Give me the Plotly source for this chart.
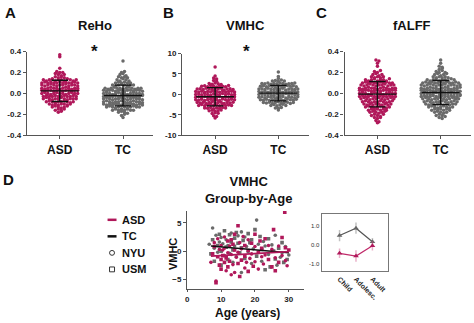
import numpy as np
import plotly.graph_objects as go

W, H = 474, 323
def fx(px): return px / W
def fy(py): return 1 - py / H

PINK = '#B0185A'
GREY = '#6A6A6A'
FONT = 'Arial, Liberation Sans, sans-serif'

GROUPS = ["ASD", "TC"]

REHO_ASD = [
 0.37, 0.35,
 0.24,
 0.21, 0.20, 0.20,
 0.19, 0.18, 0.17, 0.18,
 0.16, 0.15, 0.16, 0.15,
 0.13, 0.12, 0.13, 0.14, 0.12, 0.13, 0.13, 0.12, 0.14, 0.13, 0.12, 0.13,
 0.10, 0.11, 0.10, 0.11, 0.10, 0.10, 0.11, 0.10, 0.11, 0.10, 0.10, 0.11, 0.10,
 0.08, 0.07, 0.08, 0.09, 0.08, 0.07, 0.08, 0.08, 0.09, 0.07, 0.08, 0.08, 0.07,
 0.05, 0.04, 0.05, 0.06, 0.05, 0.05, 0.04, 0.05, 0.06, 0.05, 0.04, 0.05, 0.05,
 0.03, 0.02, 0.03, 0.03, 0.02, 0.03, 0.03, 0.02, 0.03, 0.03, 0.02, 0.03, 0.03,
 0.00, 0.01, 0.00, -0.01, 0.00, 0.01, 0.00, 0.00, -0.01, 0.00, 0.01, 0.00, 0.00,
 -0.03, -0.02, -0.03, -0.03, -0.02, -0.03, -0.03, -0.02, -0.03, -0.03, -0.02, -0.03,
 -0.05, -0.04, -0.05, -0.06, -0.05, -0.05, -0.04, -0.05, -0.06, -0.05, -0.05, -0.05,
 -0.08, -0.07, -0.08, -0.09, -0.08, -0.08, -0.07, -0.08, -0.09, -0.08,
 -0.10, -0.11, -0.10, -0.11, -0.10, -0.10, -0.11, -0.10,
 -0.13, -0.12, -0.13, -0.14, -0.13, -0.12,
 -0.16, -0.15, -0.16, -0.15,
 -0.18, -0.17,
]
REHO_TC = [
 0.31,
 0.20, 0.21,
 0.18, 0.19, 0.17,
 0.16, 0.15, 0.16, 0.15,
 0.13, 0.12, 0.14, 0.13, 0.12,
 0.10, 0.11, 0.10, 0.11, 0.10, 0.10,
 0.08, 0.07, 0.08, 0.09, 0.08, 0.07, 0.08, 0.08,
 0.05, 0.04, 0.05, 0.06, 0.05, 0.05, 0.04, 0.05, 0.06, 0.05, 0.04, 0.05, 0.05,
 0.03, 0.02, 0.03, 0.03, 0.02, 0.03, 0.03, 0.02, 0.03, 0.03, 0.02, 0.03, 0.03, 0.02,
 0.00, 0.01, 0.00, -0.01, 0.00, 0.01, 0.00, 0.00, -0.01, 0.00, 0.01, 0.00, 0.00, -0.01,
 -0.03, -0.02, -0.03, -0.03, -0.02, -0.03, -0.03, -0.02, -0.03, -0.03, -0.02, -0.03, -0.03, -0.02,
 -0.05, -0.04, -0.05, -0.06, -0.05, -0.05, -0.04, -0.05, -0.06, -0.05, -0.04, -0.05, -0.05, -0.06,
 -0.08, -0.07, -0.08, -0.09, -0.08, -0.08, -0.07, -0.08, -0.09, -0.08, -0.07, -0.08, -0.08, -0.09,
 -0.10, -0.11, -0.10, -0.11, -0.10, -0.10, -0.11, -0.10, -0.11, -0.10, -0.10, -0.11, -0.10, -0.11,
 -0.13, -0.12, -0.13, -0.14, -0.13, -0.12, -0.13, -0.14, -0.13, -0.12, -0.13, -0.13,
 -0.16, -0.15, -0.16, -0.15, -0.16, -0.15, -0.16, -0.16,
 -0.18, -0.17, -0.18, -0.19,
 -0.21, -0.20,
 -0.23,
]
VMHC_ASD = [
 6.7,
 4.5,
 4.0, 3.8,
 3.4, 3.2,
 2.7, 2.5, 2.8, 2.6, 2.4,
 2.0, 2.1, 1.9, 2.2, 2.0, 1.8, 2.1, 2.0, 1.9, 2.2,
 1.3, 1.4, 1.2, 1.5, 1.3, 1.2, 1.4, 1.3, 1.5, 1.1, 1.3, 1.4, 1.2,
 0.7, 0.6, 0.8, 0.5, 0.7, 0.6, 0.8, 0.7, 0.5, 0.9, 0.6, 0.7, 0.8, 0.6,
 0.0, 0.1, -0.1, 0.2, 0.0, -0.2, 0.1, 0.0, -0.1, 0.2, 0.0, 0.1, -0.1, 0.0,
 -0.7, -0.6, -0.8, -0.5, -0.7, -0.6, -0.8, -0.7, -0.5, -0.9, -0.6, -0.7, -0.8, -0.6,
 -1.3, -1.4, -1.2, -1.5, -1.3, -1.2, -1.4, -1.3, -1.5, -1.1, -1.3, -1.4, -1.2, -1.3,
 -2.0, -2.1, -1.9, -2.2, -2.0, -1.8, -2.1, -2.0, -1.9, -2.2, -2.0, -2.1, -1.9,
 -2.7, -2.5, -2.8, -2.6, -2.4, -2.7, -2.6, -2.8, -2.5, -2.7, -2.6, -2.7,
 -3.3, -3.4, -3.2, -3.5, -3.3, -3.4, -3.2, -3.3,
 -4.0, -3.9, -4.1, -4.0, -3.8,
 -4.7, -4.5, -4.6,
 -5.2, -5.4,
 -5.8,
]
VMHC_TC = [
 5.5,
 4.4,
 3.9,
 3.3, 3.4, 3.2, 3.5, 3.3,
 2.7, 2.6, 2.8, 2.5, 2.7, 2.6, 2.8, 2.7, 2.5, 2.6, 2.7, 2.8,
 2.0, 2.1, 1.9, 2.2, 2.0, 1.8, 2.1, 2.0, 1.9, 2.2, 2.0, 2.1, 1.9,
 1.3, 1.4, 1.2, 1.5, 1.3, 1.2, 1.4, 1.3, 1.5, 1.1, 1.3, 1.4, 1.2, 1.3,
 0.7, 0.6, 0.8, 0.5, 0.7, 0.6, 0.8, 0.7, 0.5, 0.9, 0.6, 0.7, 0.8, 0.6,
 0.0, 0.1, -0.1, 0.2, 0.0, -0.2, 0.1, 0.0, -0.1, 0.2, 0.0, 0.1, -0.1, 0.0,
 -0.7, -0.6, -0.8, -0.5, -0.7, -0.6, -0.8, -0.7, -0.5, -0.9, -0.6, -0.7, -0.8, -0.6,
 -1.3, -1.4, -1.2, -1.5, -1.3, -1.2, -1.4, -1.3, -1.5, -1.1, -1.3, -1.4, -1.2,
 -2.0, -2.1, -1.9, -2.2, -2.0, -1.8, -2.1, -2.0, -1.9, -2.2, -2.0,
 -2.7, -2.5, -2.8, -2.6, -2.4, -2.7,
 -3.3, -3.4, -3.2,
 -3.8,
]
FALFF_ASD = [
 0.32, 0.31,
 0.29,
 0.26,
 0.21, 0.20, 0.22,
 0.18, 0.19, 0.17, 0.18,
 0.16, 0.15, 0.16, 0.15, 0.16,
 0.13, 0.12, 0.13, 0.14, 0.12, 0.13, 0.13, 0.12, 0.14,
 0.10, 0.11, 0.10, 0.11, 0.10, 0.10, 0.11, 0.10, 0.11, 0.10, 0.10,
 0.08, 0.07, 0.08, 0.09, 0.08, 0.07, 0.08, 0.08, 0.09, 0.07, 0.08, 0.08,
 0.05, 0.04, 0.05, 0.06, 0.05, 0.05, 0.04, 0.05, 0.06, 0.05, 0.04, 0.05, 0.05,
 0.03, 0.02, 0.03, 0.03, 0.02, 0.03, 0.03, 0.02, 0.03, 0.03, 0.02, 0.03, 0.03,
 0.00, 0.01, 0.00, -0.01, 0.00, 0.01, 0.00, 0.00, -0.01, 0.00, 0.01, 0.00, 0.00,
 -0.03, -0.02, -0.03, -0.03, -0.02, -0.03, -0.03, -0.02, -0.03, -0.03, -0.02, -0.03, -0.03,
 -0.05, -0.04, -0.05, -0.06, -0.05, -0.05, -0.04, -0.05, -0.06, -0.05, -0.04, -0.05,
 -0.08, -0.07, -0.08, -0.09, -0.08, -0.08, -0.07, -0.08, -0.09, -0.08, -0.07,
 -0.10, -0.11, -0.10, -0.11, -0.10, -0.10, -0.11, -0.10, -0.11, -0.10,
 -0.13, -0.12, -0.13, -0.14, -0.13, -0.12, -0.13, -0.14, -0.13,
 -0.16, -0.15, -0.16, -0.15, -0.16, -0.15, -0.16,
 -0.18, -0.17, -0.18, -0.19, -0.18, -0.17,
 -0.21, -0.20, -0.21, -0.22, -0.20,
 -0.23, -0.24, -0.23,
 -0.26, -0.27,
 -0.28,
]
FALFF_TC = [
 0.32,
 0.29,
 0.26, 0.25,
 0.23, 0.24,
 0.21, 0.20, 0.22, 0.20,
 0.18, 0.19, 0.17, 0.18, 0.19,
 0.16, 0.15, 0.16, 0.15, 0.16, 0.15,
 0.13, 0.12, 0.13, 0.14, 0.12, 0.13, 0.13, 0.12, 0.14, 0.13,
 0.10, 0.11, 0.10, 0.11, 0.10, 0.10, 0.11, 0.10, 0.11, 0.10, 0.10, 0.11, 0.10,
 0.08, 0.07, 0.08, 0.09, 0.08, 0.07, 0.08, 0.08, 0.09, 0.07, 0.08, 0.08, 0.07, 0.08,
 0.05, 0.04, 0.05, 0.06, 0.05, 0.05, 0.04, 0.05, 0.06, 0.05, 0.04, 0.05, 0.05, 0.06,
 0.03, 0.02, 0.03, 0.03, 0.02, 0.03, 0.03, 0.02, 0.03, 0.03, 0.02, 0.03, 0.03, 0.02,
 0.00, 0.01, 0.00, -0.01, 0.00, 0.01, 0.00, 0.00, -0.01, 0.00, 0.01, 0.00, 0.00, -0.01,
 -0.03, -0.02, -0.03, -0.03, -0.02, -0.03, -0.03, -0.02, -0.03, -0.03, -0.02, -0.03, -0.03, -0.02,
 -0.05, -0.04, -0.05, -0.06, -0.05, -0.05, -0.04, -0.05, -0.06, -0.05, -0.04, -0.05, -0.05,
 -0.08, -0.07, -0.08, -0.09, -0.08, -0.08, -0.07, -0.08, -0.09, -0.08, -0.07, -0.08,
 -0.10, -0.11, -0.10, -0.11, -0.10, -0.10, -0.11, -0.10, -0.11, -0.10, -0.10,
 -0.13, -0.12, -0.13, -0.14, -0.13, -0.12, -0.13, -0.14, -0.13,
 -0.16, -0.15, -0.16, -0.15, -0.16, -0.15, -0.16,
 -0.18, -0.17, -0.18, -0.19, -0.18,
 -0.21, -0.20, -0.21, -0.22,
 -0.23, -0.24,
]

# Panel D: VMHC vs age
ASD_NYU_AGE = [8.5, 7, 8, 9, 9.5, 10, 10.5, 11, 11, 11.5, 12, 12.5, 13, 13, 13.5, 14, 14.5, 15, 15.5, 16, 16.5, 17, 17.5, 18, 18.5, 19, 20, 20, 21, 22, 22.5, 23, 24, 25, 26, 27, 28, 29, 29.5]
ASD_NYU_VMHC = [-5.3, -2.0, 1.5, 2.2, 0.3, 1.0, 0.2, 2.5, 0.5, -3.5, -0.3, 0.9, -4.2, -0.6, -2.4, -3.8, -1.1, -0.2, 1.5, 0.4, 2.6, -3.0, -2.0, 2.0, -1.3, -0.5, 0.8, -1.9, -3.2, -1.0, -2.3, -0.7, 1.0, 0.3, -1.2, 0.9, -0.8, -1.7, -2.6]
ASD_USM_AGE = [8.5, 7.5, 8, 9, 9.5, 10, 10, 10.5, 11, 11.5, 12, 12, 12.5, 13, 13.5, 14, 14, 15, 15, 15.5, 16, 17, 17, 18, 18, 19, 19.5, 20, 21, 21.5, 22, 23, 24, 25, 25.5, 26, 27, 28, 28.8, 29, 30]
ASD_USM_VMHC = [-5.6, -0.5, 0.8, -1.0, -2.5, -1.5, -3.2, -0.8, -2.0, -1.2, 1.8, -2.8, -1.8, 2.0, 1.2, 0.2, 3.0, 4.5, -2.2, -4.5, -1.6, -0.9, 1.0, 0.1, -3.6, 1.4, -2.7, 3.0, -0.2, 1.8, 0.5, 2.2, -1.5, -2.8, 3.8, -3.5, -2.0, 2.4, 6.9, 0.6, 0.2]
TC_NYU_AGE = [6.5, 7.5, 8, 8.5, 9, 9.5, 10, 10.5, 11, 11.5, 12, 12.5, 13, 13.5, 14, 14.5, 15, 16, 16, 17, 17.5, 18, 19, 19.5, 20.5, 21, 22, 22.5, 23, 24, 25, 26, 26.5, 27.5, 28, 29, 30]
TC_NYU_VMHC = [1.2, 4.1, 0.5, 2.8, -0.2, 1.6, 2.4, 1.3, -0.8, 2.0, 1.0, -0.4, 3.2, -2.0, 0.9, -1.0, 2.7, 3.4, -3.8, 2.5, 0.8, -0.1, -2.2, 0.4, 5.5, 1.2, -1.8, 1.7, 0.9, -0.6, 1.1, 2.8, -2.5, -1.1, -0.3, 0.8, -0.7]
TC_USM_AGE = [7, 7.5, 8, 9, 9.5, 10, 10, 11, 11.5, 12, 12.5, 13, 13.5, 14, 14.5, 15, 15.5, 16, 16.5, 17, 18, 18.5, 19, 20, 20.5, 21.5, 22, 23, 24, 24.5, 25.5, 26, 27, 28, 28.5, 29.5]
TC_USM_VMHC = [-0.5, 2.0, -1.8, 1.0, 3.0, 0.0, -2.5, 3.6, 0.7, -1.5, 2.9, 1.6, 0.2, 2.3, 3.3, 1.4, -0.3, 0.6, 1.9, -1.3, 3.1, 1.5, 2.0, 3.8, -0.9, 2.6, 0.3, -3.3, 2.2, -2.8, 0.0, -1.4, 0.5, 1.5, -2.0, -1.5]
FIT_AGE = [7, 30]
ASD_FIT = [-0.9, -0.1]
TC_FIT = [0.9, -0.3]

# Inset: age group means
AGE_GROUPS = ["Child", "Adolesc.", "Adult"]
INSET_ASD = [-0.46, -0.60, -0.06]
INSET_ASD_ERR = [0.25, 0.30, 0.25]
INSET_TC = [0.48, 0.87, 0.15]
INSET_TC_ERR = [0.30, 0.30, 0.20]

fig = go.Figure()

def add_swarm(xa, ya, vals, cat, color, h, s):
    v = np.asarray(vals, float)
    k = np.round(v / h).astype(int)
    off = np.zeros(len(v))
    for kk in np.unique(k):
        idx = np.where(k == kk)[0]
        n = len(idx)
        off[idx] = (np.arange(n) - (n - 1) / 2) * s
    fig.add_trace(go.Scatter(x=cat + off, y=v, mode='markers',
                             marker=dict(size=3.5, color=color, line=dict(width=0)),
                             xaxis=xa, yaxis=ya, showlegend=False, hoverinfo='skip'))
    m = v.mean(); sd = v.std(ddof=1)
    xs = [cat - 0.30, cat + 0.30, None, cat, cat, None, cat - 0.13, cat + 0.13, None, cat - 0.13, cat + 0.13]
    ys = [m, m, None, m - sd, m + sd, None, m + sd, m + sd, None, m - sd, m - sd]
    fig.add_trace(go.Scatter(x=xs, y=ys, mode='lines', line=dict(color='#111', width=1.4),
                             xaxis=xa, yaxis=ya, showlegend=False, hoverinfo='skip'))

S = 3.0 / 63.5
panels = [
    ('x', 'y', REHO_ASD, REHO_TC, 0.8 * 2.8 / 86),
    ('x2', 'y2', VMHC_ASD, VMHC_TC, 20 * 2.8 / 84),
    ('x3', 'y3', FALFF_ASD, FALFF_TC, 0.8 * 2.8 / 86),
]
for xa, ya, a, t, h in panels:
    add_swarm(xa, ya, a, 0, PINK, h, S)
    add_swarm(xa, ya, t, 1, GREY, h, S)

# Panel D scatter
for ages, vals, col, sym in [(TC_NYU_AGE, TC_NYU_VMHC, GREY, 'circle'), (TC_USM_AGE, TC_USM_VMHC, GREY, 'square'),
                             (ASD_NYU_AGE, ASD_NYU_VMHC, PINK, 'circle'), (ASD_USM_AGE, ASD_USM_VMHC, PINK, 'square')]:
    fig.add_trace(go.Scatter(x=ages, y=vals, mode='markers', marker=dict(size=3.6, color=col, symbol=sym, line=dict(width=0)),
                             xaxis='x4', yaxis='y4', showlegend=False, hoverinfo='skip'))
fig.add_trace(go.Scatter(x=FIT_AGE, y=TC_FIT, mode='lines', line=dict(color='#111', width=1.6),
                         xaxis='x4', yaxis='y4', showlegend=False))
fig.add_trace(go.Scatter(x=FIT_AGE, y=ASD_FIT, mode='lines', line=dict(color=PINK, width=1.6),
                         xaxis='x4', yaxis='y4', showlegend=False))

# Inset
fig.add_trace(go.Scatter(x=[0, 1, 2], y=INSET_TC, mode='lines+markers',
                         line=dict(color='#555', width=1.2), marker=dict(symbol='triangle-up', size=5, color='#666'),
                         error_y=dict(type='data', array=INSET_TC_ERR, color='rgba(120,120,120,0.45)', thickness=1.5, width=0),
                         xaxis='x5', yaxis='y5', showlegend=False))
fig.add_trace(go.Scatter(x=[0, 1, 2], y=INSET_ASD, mode='lines+markers',
                         line=dict(color='#C02A6A', width=1.2), marker=dict(symbol='triangle-up', size=5, color=PINK),
                         error_y=dict(type='data', array=INSET_ASD_ERR, color='rgba(200,60,120,0.4)', thickness=1.5, width=0),
                         xaxis='x5', yaxis='y5', showlegend=False))

AX = dict(showline=True, linecolor='#555', linewidth=1.3, ticks='outside', ticklen=3, tickwidth=1,
          tickcolor='#555', showgrid=False, zeroline=False, fixedrange=True)
tickf = dict(family=FONT, size=8, color='#222', weight='bold')
catf = dict(family=FONT, size=12, color='#111', weight='bold')

def xcat(dom, anchor):
    return dict(AX, domain=[fx(dom[0]), fx(dom[1])], anchor=anchor, range=[-0.52, 1.48],
                tickvals=[0, 1], ticktext=GROUPS, tickfont=catf)

layout = dict(width=W, height=H, margin=dict(l=0, r=0, t=0, b=0), autosize=False,
              paper_bgcolor='white', plot_bgcolor='white', showlegend=False)
layout['xaxis'] = xcat((25, 152), 'y')
layout['yaxis'] = dict(AX, domain=[fy(135), fy(49)], anchor='x', range=[-0.4, 0.4],
                       tickvals=[-0.4, -0.2, 0, 0.2, 0.4], ticktext=['-0.4', '-0.2', '0.0', '0.2', '0.4'], tickfont=tickf)
layout['xaxis2'] = xcat((181, 308), 'y2')
layout['yaxis2'] = dict(AX, domain=[fy(135), fy(51)], anchor='x2', range=[-10, 10],
                        tickvals=[-10, -5, 0, 5, 10], ticktext=['-10', '-5', '0', '5', '10'], tickfont=tickf)
layout['xaxis3'] = xcat((344, 471), 'y3')
layout['yaxis3'] = dict(AX, domain=[fy(135), fy(49)], anchor='x3', range=[-0.4, 0.4],
                        tickvals=[-0.4, -0.2, 0, 0.2, 0.4], ticktext=['-0.4', '-0.2', '0.0', '0.2', '0.4'], tickfont=tickf)
layout['xaxis4'] = dict(AX, domain=[fx(186), fx(303)], anchor='y4', range=[0, 34.4], ticklen=2,
                        tickvals=[0, 10, 20, 30], tickfont=tickf)
layout['yaxis4'] = dict(AX, domain=[fy(293), fy(213)], anchor='x4', range=[-6.7, 7.1],
                        tickvals=[-5, 0, 5], tickfont=tickf)
layout['xaxis5'] = dict(showline=True, mirror=True, linecolor='#777', linewidth=1.2, showgrid=False, zeroline=False,
                        domain=[fx(321), fx(388)], anchor='y5', range=[-1.09, 2.97], ticks='',
                        tickvals=[0, 1, 2], ticktext=AGE_GROUPS, tickangle=45,
                        tickfont=dict(family=FONT, size=7, color='#222', weight='bold'))
layout['yaxis5'] = dict(showline=True, mirror=True, linecolor='#777', linewidth=1.2, showgrid=False, zeroline=False,
                        domain=[fy(275), fy(216)], anchor='x5', range=[-1.41, 1.62], ticks='',
                        tickvals=[-1, 0, 1], ticktext=['-1.0', '0.0', '1.0'],
                        tickfont=dict(family=FONT, size=6, color='#333'))

ann = []
def A(x, y, text, size, **kw):
    d = dict(x=fx(x), y=fy(y), xref='paper', yref='paper', text=text, showarrow=False,
             xanchor='center', yanchor='middle',
             font=dict(family=FONT, size=size, color='#111', weight='bold'))
    d.update(kw)
    ann.append(d)

A(9, 9, 'A', 15)
A(167, 9, 'B', 15)
A(321, 9, 'C', 15)
A(7, 181, 'D', 15)
A(93, 22, 'ReHo', 13)
A(245, 22, 'VMHC', 13)
A(412, 22, 'fALFF', 13)
A(93, 49, '*', 17)
A(246, 49, '*', 17)
A(248, 191, 'VMHC<br>Group-by-Age', 13)
A(247, 317.5, 'Age (years)', 12, yanchor='middle')
A(172, 257, 'VMHC', 11, textangle=-90)
for yy, t in [(222, 'ASD'), (239, 'TC'), (256, 'NYU'), (273, 'USM')]:
    A(118, yy, t, 11, xanchor='left')
layout['annotations'] = ann

shapes = [
    dict(type='line', xref='paper', yref='paper', x0=fx(106), x1=fx(115), y0=fy(222), y1=fy(222),
         line=dict(color=PINK, width=2.5)),
    dict(type='line', xref='paper', yref='paper', x0=fx(106), x1=fx(115), y0=fy(239), y1=fy(239),
         line=dict(color='#111', width=2.5)),
    dict(type='circle', xref='paper', yref='paper', x0=fx(108), x1=fx(113), y0=fy(253.5), y1=fy(258.5),
         line=dict(color='#333', width=1)),
    dict(type='rect', xref='paper', yref='paper', x0=fx(108), x1=fx(113), y0=fy(270.5), y1=fy(275.5),
         line=dict(color='#333', width=1)),
]
layout['shapes'] = shapes

fig.update_layout(**layout)
fig.write_html("out.html")
